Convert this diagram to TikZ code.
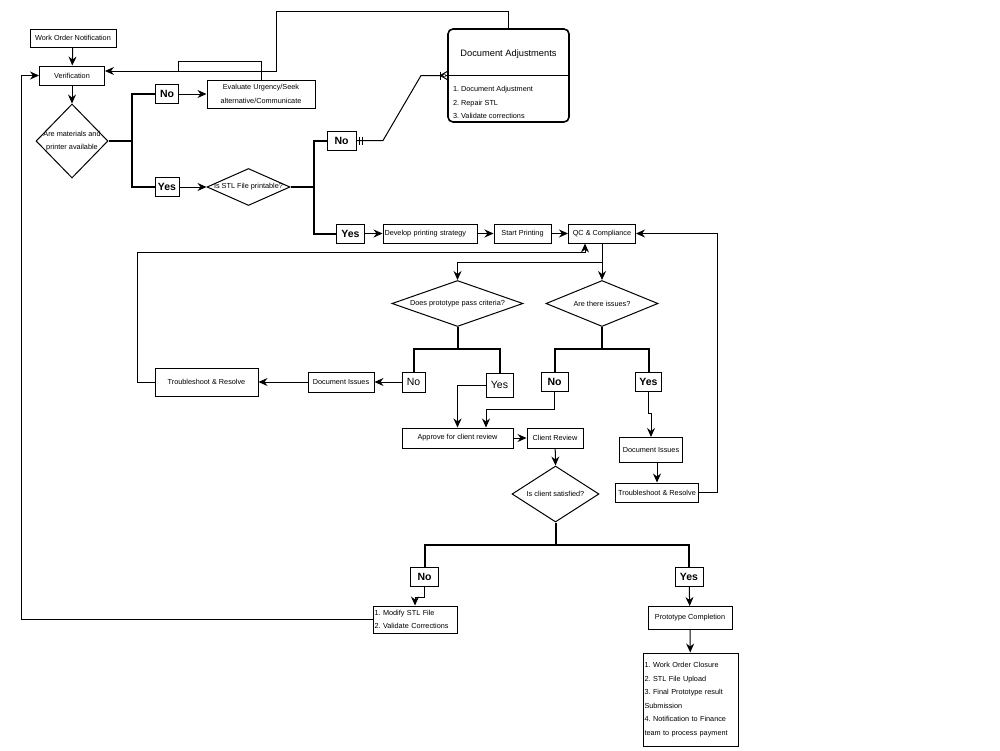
\documentclass[tikz,border=0pt]{standalone}
\usepackage{fontspec}
\setmainfont{Liberation Sans}
\usetikzlibrary{shapes.geometric, arrows.meta, calc}
\frenchspacing

\begin{document}
\begin{tikzpicture}[x=1pt, y=-1pt, line width=1pt,
    box/.style={draw, fill=white, inner sep=1.5pt, align=center, font=\fontsize{7.3}{13.5}\selectfont},
    listbox/.style={box, align=left},
    yn/.style={draw, fill=white, inner sep=1pt, font=\fontsize{10.5}{12}\selectfont\bfseries},
    ynlight/.style={draw, fill=white, inner sep=1pt, font=\fontsize{10.5}{12}\selectfont},
    decision/.style={diamond, draw, fill=white, inner sep=0pt},
    dtext/.style={align=center, inner sep=0pt, font=\fontsize{7.3}{13.5}\selectfont},
    flow/.style={-{Stealth[length=9pt, width=8pt, inset=3pt]}},
    branch/.style={line width=2pt}]
    \useasboundingbox (0,0) rectangle (1000,750);

    \node[box, minimum width=86, minimum height=18] (won) at (73,38) {Work Order Notification};
    \node[box, minimum width=65, minimum height=19] (ver) at (72,75.5) {Verification};
    \node[decision, minimum width=72, minimum height=74,
        label={[dtext]center:Are materials and\\printer available}] (avail) at (72,141) {};
    \node[yn, minimum width=23, minimum height=19] (no1) at (167,94) {No};
    \node[yn, minimum width=24, minimum height=19] (yes1) at (167,187) {Yes};
    \node[box, minimum width=108, minimum height=28] (eval) at (261,94) {Evaluate Urgency/Seek\\alternative/Communicate};
    \node[decision, minimum width=83, minimum height=37,
        label={[dtext]center:Is STL File printable?}] (stl) at (248.5,187) {};
    \node[yn, minimum width=29, minimum height=19] (no2) at (341.5,140.5) {No};
    \node[yn, minimum width=28, minimum height=19] (yes2) at (350.5,233.5) {Yes};

    \node[draw, rounded corners=5pt, line width=1.6pt, minimum width=121, minimum height=93] (docadj) at (508.5,75.5) {};
    \draw[line width=1.2pt] (docadj.west) -- (docadj.east);
    \node[font=\fontsize{9.3}{11}\selectfont] (dahead) at (508.5,54) {Document Adjustments};
    \node[listbox, draw=none, fill=none, anchor=west] (dalist) at (451,102.5) {1. Document Adjustment\\2. Repair STL\\3. Validate corrections};

    \node[listbox, text width=91pt, minimum height=19] (dev) at (430,233.5) {Develop printing strategy};
    \node[box, minimum width=57, minimum height=19] (sp) at (522.5,233.5) {Start Printing};
    \node[box, minimum width=67, minimum height=19] (qc) at (602,233.5) {QC \& Compliance};

    \node[decision, minimum width=131, minimum height=46,
        label={[dtext]center:Does prototype pass criteria?}] (pass) at (457.5,303.5) {};
    \node[decision, minimum width=112, minimum height=46,
        label={[dtext]center:Are there issues?}] (iss) at (602,303.5) {};

    \node[ynlight, minimum width=23, minimum height=20] (no3) at (413.5,382) {No};
    \node[ynlight, minimum width=27, minimum height=24] (yes3) at (499.5,385) {Yes};
    \node[box, minimum width=66, minimum height=20] (di1) at (341,382) {Document Issues};
    \node[box, minimum width=103, minimum height=28] (tr1) at (206.5,382) {Troubleshoot \& Resolve};

    \node[yn, minimum width=27, minimum height=19] (no4) at (554.5,381.5) {No};
    \node[yn, minimum width=26, minimum height=19] (yes4) at (648.5,381.5) {Yes};
    \node[box, minimum width=63, minimum height=25] (di2) at (651,450) {Document Issues};
    \node[box, minimum width=83, minimum height=19] (tr2) at (657,492.5) {Troubleshoot \& Resolve};

    \node[box, minimum width=111, minimum height=20] (appr) at (457.5,438) {Approve for client review};
    \node[box, minimum width=56, minimum height=20] (cr) at (555,438) {Client Review};
    \node[decision, minimum width=87, minimum height=56,
        label={[dtext]center:Is client satisfied?}] (sat) at (555.5,494) {};

    \node[yn, minimum width=28, minimum height=19] (no5) at (424.5,577) {No};
    \node[yn, minimum width=28, minimum height=19] (yes5) at (689,577) {Yes};
    \node[listbox, text width=81pt, minimum height=27] (mod) at (415,619.5) {1. Modify STL File\\2. Validate Corrections};
    \node[box, minimum width=84, minimum height=23] (pc) at (690,618) {Prototype Completion};
    \node[listbox, text width=92pt, minimum height=93] (fin) at (690.5,699.5) {1. Work Order Closure\\2. STL File Upload\\3. Final Prototype result\\Submission\\4. Notification to Finance\\team to process payment};

    \coordinate (vin) at ($(ver.east)+(0,-4.5)$);
    \coordinate (daup) at (276,11);
    \coordinate (evup) at (178,61);
    \coordinate (j1) at ($(avail.east)+(23,0)$);
    \coordinate (j2) at ($(stl.east)+(23,0)$);
    \coordinate (er1) at (383,140.5);
    \coordinate (er2) at (421,75.5);
    \coordinate (j3) at ($(qc.south)+(0,19)$);
    \coordinate (j4) at ($(pass.south)+(0,22)$);
    \coordinate (j5) at ($(iss.south)+(0,22)$);
    \coordinate (j6) at ($(sat.south)+(0,22)$);
    \coordinate (lp) at (137,252);
    \coordinate (nb) at (554.5,409);
    \coordinate (yb) at (648.5,413);
    \coordinate (rl) at (717,233.5);
    \coordinate (nb2) at (424.5,597);
    \coordinate (lb) at (21,75.5);

    \draw[flow] (won) -- (ver);
    \draw[flow] (ver) -- (avail.north);
    \draw[branch] (avail.east) -- (j1) |- (no1.west);
    \draw[branch] (j1) |- (yes1.west);
    \draw[flow] (no1) -- (eval.west);
    \draw[flow] (yes1) -- (stl.west);
    \draw[flow] (docadj.north) |- (daup) |- (vin);
    \draw (eval.north) |- (evup) -- (evup |- vin);

    \draw[branch] (stl.east) -- (j2) |- (no2.west);
    \draw[branch] (j2) |- (yes2.west);
    \draw (no2.east) -- (er1) -- (er2) -- (docadj.west);
    \draw ($(no2.east)+(3,-4)$) -- ++(0,8);
    \draw ($(no2.east)+(6,-4)$) -- ++(0,8);
    \draw ($(docadj.west)+(-7,-4)$) -- ++(0,8);
    \draw ($(docadj.west)+(-7,0)$) -- ++(7,-4) ($(docadj.west)+(-7,0)$) -- ++(7,4);
    \draw[fill=white, line width=0.6pt] ($(docadj.west)+(-3,0)$) circle (1.8);

    \draw[flow] (yes2) -- (dev);
    \draw[flow] (dev) -- (sp);
    \draw[flow] (sp) -- (qc);
    \draw (qc.south) -- (j3);
    \draw[flow] (j3) -| (pass.north);
    \draw[flow] (j3) -- (iss.north);

    \draw[branch] (pass.south) -- (j4) -| (no3.north);
    \draw[branch] (j4) -| (yes3.north);
    \draw[flow] (no3) -- (di1);
    \draw[flow] (di1) -- (tr1);
    \draw[flow] (tr1.west) -| (lp) -| ($(qc.south)+(-17,0)$);
    \draw[flow] (yes3.west) -| (appr.north);

    \draw[branch] (iss.south) -- (j5) -| (no4.north);
    \draw[branch] (j5) -| (yes4.north);
    \draw[flow] (no4.south) -- (nb) -| ($(appr.north)+(28.5,0)$);
    \draw[flow] (yes4.south) -- (yb) -| (di2.north);
    \draw[flow] (tr2.north |- di2.south) -- (tr2.north);
    \draw[flow] (tr2.east) -| (rl) -- (qc.east);

    \draw[flow] (appr) -- (cr);
    \draw[flow] (cr) -- (sat.north);
    \draw[branch] (sat.south) -- (j6) -| (no5.north);
    \draw[branch] (j6) -| (yes5.north);
    \draw[flow] (no5.south) -- (nb2) -| (mod.north);
    \draw[flow] (mod.west) -| (lb) -- (ver.west);
    \draw[flow] (yes5) -- (pc);
    \draw[flow] (pc) -- (fin);
\end{tikzpicture}
\end{document}
